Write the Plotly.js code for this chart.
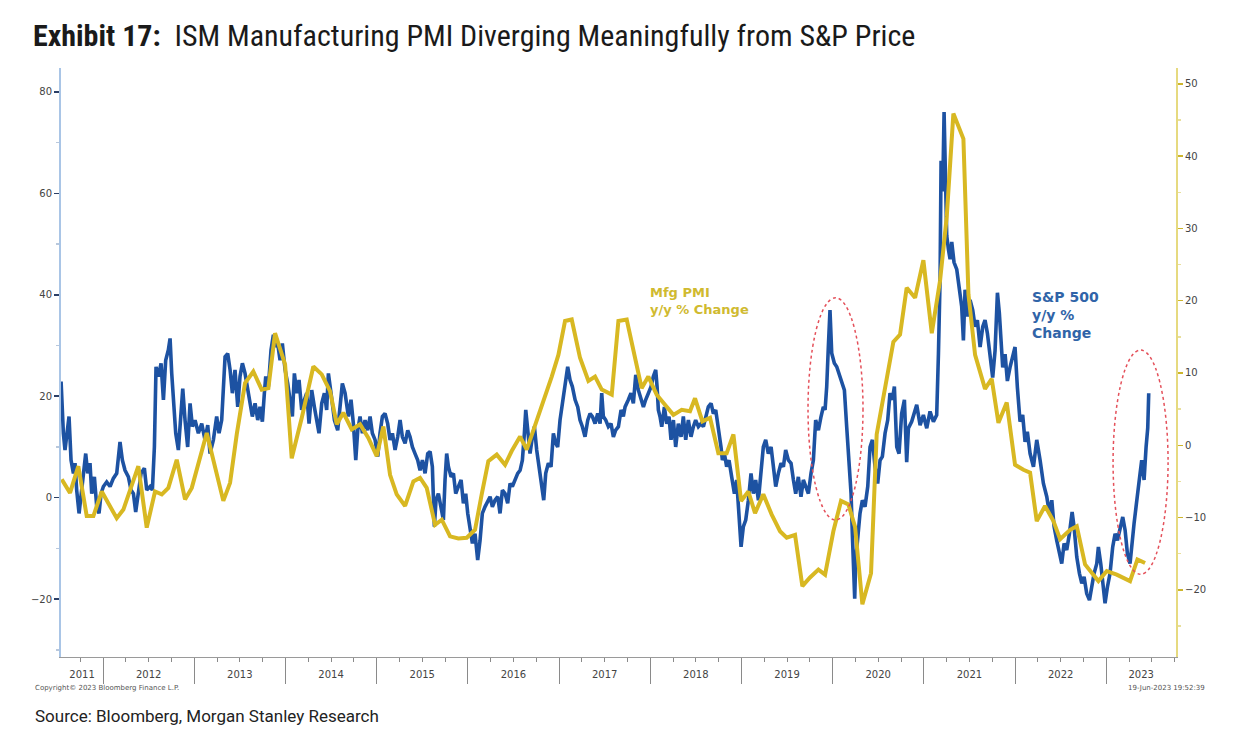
<!DOCTYPE html>
<html>
<head>
<meta charset="utf-8">
<script src="https://cdn.plot.ly/plotly-3.0.1.min.js"></script>
<style>html,body{margin:0;padding:0;background:#fff;}#chart{width:1260px;height:742px;}</style>
</head>
<body>
<div id="chart"></div>
<script>
// S&P 500 y/y % change (left axis), dates as decimal years
const spDates = [
2011.540,2011.565,2011.583,2011.602,2011.627,2011.649,2011.675,2011.693,2011.711,2011.737,2011.759,2011.784,2011.810,2011.832,2011.857,2011.876,2011.905,2011.931,2011.956,2011.978,
2012.004,2012.040,2012.077,2012.113,2012.150,2012.186,2012.212,2012.241,2012.278,2012.307,2012.333,2012.358,2012.387,2012.417,2012.453,2012.479,2012.515,2012.541,2012.563,2012.581,
2012.607,2012.636,2012.662,2012.687,2012.716,2012.735,2012.753,2012.771,2012.797,2012.826,2012.855,2012.874,2012.899,2012.928,2012.954,2012.980,
2013.009,2013.045,2013.082,2013.118,2013.148,2013.173,2013.210,2013.246,2013.272,2013.301,2013.338,2013.367,2013.393,2013.418,2013.447,2013.477,2013.502,2013.528,2013.557,2013.586,
2013.612,2013.637,2013.667,2013.696,2013.721,2013.747,2013.769,2013.784,2013.813,2013.842,2013.868,2013.886,2013.915,2013.941,2013.966,2013.996,
2014.025,2014.050,2014.076,2014.098,2014.124,2014.149,2014.178,2014.208,2014.233,2014.259,2014.288,2014.317,2014.343,2014.368,2014.398,2014.427,2014.452,2014.471,2014.500,2014.537,
2014.573,2014.599,2014.624,2014.654,2014.690,2014.719,2014.745,2014.771,2014.793,2014.818,2014.844,2014.873,2014.902,2014.928,2014.953,2014.983,
2015.012,2015.037,2015.063,2015.092,2015.121,2015.147,2015.173,2015.202,2015.231,2015.257,2015.282,2015.312,2015.341,2015.366,2015.392,2015.421,2015.450,2015.476,2015.502,2015.531,
2015.560,2015.586,2015.611,2015.633,2015.651,2015.677,2015.706,2015.732,2015.750,2015.768,2015.787,2015.816,2015.842,2015.867,2015.896,2015.926,2015.951,2015.977,2015.999,
2016.024,2016.050,2016.079,2016.108,2016.134,2016.159,2016.188,2016.218,2016.244,2016.269,2016.298,2016.328,2016.353,2016.379,2016.408,2016.437,2016.463,2016.488,2016.518,2016.547,
2016.573,2016.598,2016.620,2016.635,2016.657,2016.682,2016.708,2016.730,2016.755,2016.781,2016.810,2016.832,2016.854,2016.883,2016.912,2016.938,2016.963,2016.985,
2017.011,2017.037,2017.066,2017.095,2017.121,2017.146,2017.176,2017.205,2017.230,2017.256,2017.285,2017.315,2017.340,2017.366,2017.395,2017.424,2017.450,2017.468,2017.486,2017.512,
2017.541,2017.570,2017.596,2017.621,2017.651,2017.680,2017.705,2017.724,2017.760,2017.789,2017.815,2017.841,2017.870,2017.899,2017.925,2017.950,2017.979,
2018.009,2018.034,2018.060,2018.075,2018.089,2018.107,2018.126,2018.155,2018.181,2018.206,2018.228,2018.254,2018.279,2018.308,2018.338,2018.363,2018.389,2018.418,2018.447,2018.473,
2018.498,2018.528,2018.557,2018.583,2018.608,2018.637,2018.667,2018.692,2018.718,2018.747,2018.776,2018.791,2018.813,2018.838,2018.864,2018.893,2018.923,2018.948,2018.974,2018.996,
2019.021,2019.047,2019.076,2019.105,2019.131,2019.156,2019.186,2019.215,2019.240,2019.266,2019.295,2019.325,2019.350,2019.376,2019.405,2019.434,2019.460,2019.485,2019.515,2019.544,
2019.570,2019.595,2019.624,2019.653,2019.679,2019.705,2019.734,2019.763,2019.789,2019.814,2019.844,2019.873,2019.898,2019.917,2019.935,2019.953,2019.971,2019.990,
2020.019,2020.045,2020.070,2020.099,2020.129,2020.154,2020.180,2020.202,2020.216,2020.231,2020.242,2020.253,2020.275,2020.300,2020.326,2020.355,2020.385,2020.410,2020.436,2020.465,
2020.494,2020.520,2020.545,2020.575,2020.604,2020.629,2020.655,2020.677,2020.703,2020.728,2020.757,2020.787,2020.812,2020.831,2020.867,2020.922,2020.959,2020.995,
2021.032,2021.068,2021.105,2021.141,2021.160,2021.178,2021.189,2021.207,2021.222,2021.236,2021.251,2021.269,2021.288,2021.306,2021.331,2021.361,2021.390,2021.415,2021.434,2021.452,
2021.478,2021.507,2021.536,2021.562,2021.587,2021.617,2021.646,2021.671,2021.697,2021.726,2021.755,2021.781,2021.807,2021.828,2021.843,2021.865,2021.891,2021.916,2021.945,2021.975,
2022.000,2022.026,2022.055,2022.084,2022.110,2022.135,2022.165,2022.202,2022.238,2022.275,2022.311,2022.348,2022.377,2022.403,2022.428,2022.457,2022.487,2022.512,2022.538,2022.567,
2022.596,2022.626,2022.647,2022.677,2022.706,2022.732,2022.757,2022.786,2022.816,2022.841,2022.867,2022.896,2022.914,2022.940,2022.962,2022.987,
2023.013,2023.042,2023.071,2023.097,2023.123,2023.152,2023.181,2023.207,2023.232,2023.261,2023.280,2023.305,2023.327,2023.353,2023.371,2023.389,2023.415,2023.437,2023.455,2023.466
];
const spValues = [
22.9,12.7,9.4,12.0,16.0,7.4,4.8,6.8,1.5,-3.1,0.8,4.8,8.7,4.8,6.8,0.8,4.1,-1.8,-3.1,0.8,
2.2,3.1,2.2,3.8,4.8,11.0,7.4,5.4,4.1,1.5,0.8,-2.8,0.8,4.8,5.8,1.5,2.2,1.5,10.0,25.8,
23.9,26.5,19.3,27.1,29.1,31.4,24.5,18.6,12.7,9.4,16.0,21.5,15.3,10.0,18.6,14.0,
15.3,12.7,14.6,11.4,14.3,8.7,11.4,16.0,12.7,15.3,27.8,28.4,25.2,20.6,25.2,17.9,23.9,26.5,24.5,21.2,
17.9,16.0,18.6,15.3,17.9,15.0,20.6,23.9,21.9,29.1,32.1,29.8,30.4,27.1,30.4,25.2,
22.5,19.3,16.0,24.5,20.6,23.2,17.3,19.3,20.6,14.6,21.2,17.9,15.3,12.7,18.6,20.6,17.3,24.5,20.6,15.3,
13.3,17.9,22.5,20.6,16.0,19.3,14.6,7.4,13.3,16.0,12.7,15.3,13.3,16.0,12.7,11.4,
8.1,12.7,16.0,16.6,14.6,11.4,12.7,9.4,12.0,15.3,12.0,10.7,13.3,12.0,10.0,8.7,7.4,5.4,7.4,4.8,
8.7,9.1,6.1,-5.7,-0.5,0.8,-1.8,-4.4,3.5,8.7,6.1,4.1,4.8,0.8,2.2,3.5,-1.1,0.8,-3.1,
-5.7,-9.0,-7.1,-12.3,-8.4,-3.1,-1.8,-0.5,0.2,-1.8,-0.5,0.2,-3.1,1.5,0.8,-1.1,2.8,2.2,3.5,4.8,
5.4,7.4,12.7,17.3,13.3,8.7,12.0,14.0,9.4,6.1,3.5,-0.5,4.8,6.8,6.1,12.7,10.7,10.0,
15.3,18.6,21.2,25.8,23.2,21.9,19.3,17.9,15.3,14.0,12.0,15.3,16.6,16.0,14.6,16.6,14.6,20.6,16.0,15.3,
14.0,14.6,12.0,13.3,14.0,17.3,16.0,17.9,19.3,20.6,18.6,24.2,21.2,19.3,17.9,19.3,20.6,
21.9,23.9,25.2,21.9,17.3,16.0,14.0,17.9,14.6,16.0,11.4,15.3,10.0,14.6,12.0,16.0,11.4,15.3,12.0,14.0,
15.3,14.0,14.6,14.0,16.0,17.9,18.6,16.6,17.3,14.0,10.0,7.4,8.7,6.1,7.4,4.1,0.8,3.5,-4.4,-9.7,
-5.7,-4.4,-0.5,4.8,0.8,3.5,-0.5,4.8,10.0,11.4,8.7,10.0,6.1,2.2,4.8,6.8,6.1,9.4,7.4,6.8,
3.5,0.8,4.1,0.2,3.5,2.2,0.8,4.8,7.4,15.3,13.3,16.0,17.9,17.3,21.9,29.8,37.0,28.5,
26.5,25.8,24.5,23.2,21.2,14.0,7.4,0.8,-7.1,-17.6,-19.9,-12.3,-7.1,-3.1,-0.5,-1.8,2.2,10.0,11.4,6.1,
2.8,7.4,8.1,12.7,15.3,20.6,19.3,21.9,10.0,8.7,16.6,19.3,7.0,13.7,15.0,18.3,14.3,16.3,
13.7,17.0,15.0,16.3,28.3,43.0,66.4,60.4,76.0,61.7,51.7,49.0,47.0,50.4,46.4,45.0,41.0,37.7,31.0,41.0,
35.7,39.0,37.0,33.7,35.0,29.7,33.7,35.0,32.4,28.3,23.7,29.0,40.4,36.4,31.0,25.7,28.3,23.0,25.7,28.3,
29.7,21.7,15.0,16.3,11.0,13.0,8.7,6.1,11.4,7.4,2.8,0.2,-3.1,-0.5,-5.7,-8.4,-11.0,-13.0,-9.0,-10.3,
-7.1,-2.8,-5.7,-11.7,-14.9,-16.9,-15.6,-18.9,-20.2,-17.6,-14.9,-13.0,-9.7,-13.0,-17.6,-20.8,
-17.6,-14.9,-9.7,-7.1,-8.4,-5.7,-3.8,-6.4,-11.0,-13.0,-9.0,-5.1,-1.8,1.5,4.8,7.4,3.5,10.0,13.7,20.6
];

// ISM Manufacturing PMI y/y % change (right axis)
const pmiDates = [
2011.547,2011.638,2011.729,2011.821,2011.894,2011.986,2012.150,2012.223,2012.387,2012.479,2012.570,2012.644,2012.716,2012.808,2012.899,2012.973,
2013.137,2013.319,2013.393,2013.466,2013.557,2013.648,2013.740,2013.813,2013.886,2013.996,2014.069,2014.179,2014.306,2014.398,2014.489,2014.563,
2014.635,2014.727,2014.818,2014.909,2015.001,2015.074,2015.147,2015.220,2015.312,2015.403,2015.476,2015.549,2015.641,2015.714,2015.805,2015.896,2015.988,
2016.079,2016.152,2016.225,2016.317,2016.408,2016.481,2016.573,2016.646,2016.737,2016.828,2016.920,2016.993,
2017.066,2017.139,2017.230,2017.322,2017.395,2017.468,2017.578,2017.651,2017.742,2017.815,2017.906,2017.979,
2018.071,2018.162,2018.254,2018.345,2018.436,2018.491,2018.572,2018.656,2018.747,2018.838,2018.912,2018.996,
2019.076,2019.149,2019.240,2019.332,2019.423,2019.496,2019.588,2019.668,2019.752,2019.844,2019.917,
2020.008,2020.092,2020.173,2020.246,2020.326,2020.421,2020.483,2020.593,2020.666,2020.739,2020.812,2020.904,2020.995,
2021.087,2021.178,2021.251,2021.324,2021.434,2021.489,2021.562,2021.671,2021.744,2021.818,2021.909,
2022.000,2022.092,2022.165,2022.238,2022.329,2022.421,2022.494,2022.604,2022.677,2022.768,2022.841,2022.914,
2023.006,2023.115,2023.261,2023.316,2023.342,2023.426
];
const pmiValues = [
-4.7,-6.6,-2.9,-9.8,-9.8,-6.4,-10.1,-8.9,-2.9,-11.4,-6.4,-6.8,-5.9,-2.0,-7.5,-5.9,
1.7,-7.7,-5.2,1.5,8.6,10.2,7.7,7.9,15.5,11.2,-1.8,3.8,10.9,9.8,7.5,2.9,
4.5,2.2,2.9,1.0,-1.5,2.6,-4.1,-6.8,-8.4,-5.0,-4.5,-5.9,-11.0,-10.3,-12.6,-12.9,-12.8,
-11.7,-6.8,-2.2,-1.3,-2.7,-0.8,1.2,-0.6,2.6,6.1,9.5,12.5,
17.2,17.4,12.1,8.9,9.5,7.7,7.0,17.2,17.4,13.0,7.9,9.5,
7.0,5.6,4.2,4.9,4.7,6.5,3.3,3.8,-1.1,-1.1,1.5,-7.7,
-6.4,-9.4,-6.8,-9.6,-11.9,-12.8,-12.4,-19.5,-18.3,-17.2,-17.9,
-11.9,-7.7,-8.2,-11.3,-22.0,-17.7,1.5,9.2,14.3,15.3,21.8,20.4,25.6,
15.5,22.8,31.6,45.9,42.4,20.9,12.5,7.8,9.2,3.1,5.9,
-2.7,-3.4,-3.8,-10.5,-8.4,-10.5,-13.0,-11.7,-11.2,-16.5,-17.7,-18.8,
-17.4,-17.9,-18.8,-16.5,-15.8,-16.3
];

const yearLabels = ['2011','2012','2013','2014','2015','2016','2017','2018','2019','2020','2021','2022','2023'];
const xRange = [2011.539, 2023.765];

const labelPos = yearLabels.map(function (s) {
  const y = parseInt(s, 10);
  const lo = Math.max(y, xRange[0]);
  const hi = Math.min(y + 1, xRange[1]);
  return (lo + hi) / 2;
});

const BLUE = '#1d52a2';
const GOLD = '#d8b822';
const tickFont = {family: 'DejaVu Sans, Verdana, sans-serif', size: 10, color: '#444'};

const traces = [
  {x: spDates, y: spValues, type: 'scatter', mode: 'lines', name: 'S&P 500 y/y % Change',
   line: {color: BLUE, width: 3.6}, xaxis: 'x', yaxis: 'y', hoverinfo: 'x+y'},
  {x: pmiDates, y: pmiValues, type: 'scatter', mode: 'lines', name: 'Mfg PMI y/y % Change',
   line: {color: GOLD, width: 4}, xaxis: 'x2', yaxis: 'y2', hoverinfo: 'x+y'}
];

const layout = {
  width: 1260, height: 742,
  paper_bgcolor: '#ffffff', plot_bgcolor: '#ffffff',
  margin: {l: 61, r: 84, t: 68, b: 85, pad: 0},
  showlegend: false,
  title: {
    text: '<b>Exhibit 17:</b>\u00a0 ISM Manufacturing PMI Diverging Meaningfully from S&P Price',
    xref: 'container', yref: 'container', x: 33 / 1260, xanchor: 'left', y: 1 - 35 / 742, yanchor: 'middle',
    font: {family: 'Liberation Sans Narrow, Roboto Condensed, DejaVu Sans Condensed, Roboto, sans-serif', size: 30, color: '#1a1a1a'}
  },
  xaxis: {
    type: 'linear', range: xRange, anchor: 'y',
    tickmode: 'array', tickvals: labelPos, ticktext: yearLabels,
    ticks: '', ticklabelstandoff: 8, tickfont: tickFont,
    showline: true, linecolor: '#9a9a9a', linewidth: 1,
    showgrid: false, zeroline: false, fixedrange: true
  },
  xaxis2: {
    type: 'linear', range: xRange, overlaying: 'x', anchor: 'y', side: 'bottom',
    tickmode: 'linear', tick0: 2012, dtick: 1,
    ticks: 'outside', ticklen: 26, tickcolor: '#8a8a8a', tickwidth: 1,
    showticklabels: false, showgrid: false, zeroline: false, showline: false,
    minor: {tickmode: 'linear', tick0: 2011, dtick: 0.25, ticks: 'outside', ticklen: 4, tickcolor: '#8a8a8a', tickwidth: 1, showgrid: false},
    fixedrange: true
  },
  yaxis: {
    range: [-31.4, 84.7], anchor: 'x', side: 'left',
    tickmode: 'linear', tick0: 0, dtick: 20,
    ticks: 'outside', ticklen: 5, tickwidth: 1.5, tickcolor: '#2b3f66', tickfont: tickFont,
    minor: {tickmode: 'linear', tick0: 0, dtick: 10, ticks: 'outside', ticklen: 3, tickcolor: '#b9c8dc', showgrid: false},
    showline: true, linecolor: '#a9c5e6', linewidth: 2,
    showgrid: false, zeroline: false, fixedrange: true
  },
  yaxis2: {
    range: [-29.3, 52.2], overlaying: 'y', anchor: 'x2', side: 'right',
    tickmode: 'linear', tick0: 0, dtick: 10,
    ticks: 'outside', ticklen: 5, tickwidth: 1.5, tickcolor: '#cdb52c', tickfont: tickFont,
    minor: {tickmode: 'linear', tick0: 0, dtick: 5, ticks: 'outside', ticklen: 3, tickcolor: '#e8df9c', showgrid: false},
    showline: true, linecolor: '#e6da80', linewidth: 2,
    showgrid: false, zeroline: false, fixedrange: true
  },
  shapes: [
    {type: 'circle', xref: 'x', yref: 'y', x0: 2019.73, x1: 2020.333, y0: -4.4, y1: 39.4,
     line: {color: '#e4505a', width: 1.5, dash: 'dot'}, layer: 'above'},
    {type: 'circle', xref: 'x', yref: 'y', x0: 2023.075, x1: 2023.678, y0: -15.1, y1: 29.1,
     line: {color: '#e4505a', width: 1.5, dash: 'dot'}, layer: 'above'}
  ],
  annotations: [
    {text: '<b>Mfg PMI<br>y/y % Change</b>', xref: 'paper', yref: 'paper',
     x: (648 - 61) / 1115, y: (657 - 283) / 589, xanchor: 'left', yanchor: 'top', align: 'left', showarrow: false,
     font: {family: 'DejaVu Sans, Verdana, sans-serif', size: 13, color: '#d0ba30'}},
    {text: '<b>S&P 500<br>y/y %<br>Change</b>', xref: 'paper', yref: 'paper',
     x: (1030 - 61) / 1115, y: (657 - 287) / 589, xanchor: 'left', yanchor: 'top', align: 'left', showarrow: false,
     font: {family: 'DejaVu Sans, Verdana, sans-serif', size: 14, color: '#3064a8'}},
    {text: 'Copyright\u00a9 2023 Bloomberg Finance L.P.', xref: 'paper', yref: 'paper',
     x: (33 - 61) / 1115, y: (657 - 688) / 589, xanchor: 'left', yanchor: 'middle', showarrow: false,
     font: {family: 'DejaVu Sans, sans-serif', size: 7, color: '#555'}},
    {text: '19-Jun-2023 19:52:39', xref: 'paper', yref: 'paper',
     x: (1207 - 61) / 1115, y: (657 - 688) / 589, xanchor: 'right', yanchor: 'middle', showarrow: false,
     font: {family: 'DejaVu Sans, sans-serif', size: 7, color: '#555'}},
    {text: 'Source: Bloomberg, Morgan Stanley Research', xref: 'paper', yref: 'paper',
     x: (33 - 61) / 1115, y: (657 - 716) / 589, xanchor: 'left', yanchor: 'middle', showarrow: false,
     font: {family: 'Roboto, sans-serif', size: 17, color: '#222'}}
  ]
};

Plotly.newPlot('chart', traces, layout, {displayModeBar: false, staticPlot: true});
</script>
</body>
</html>
